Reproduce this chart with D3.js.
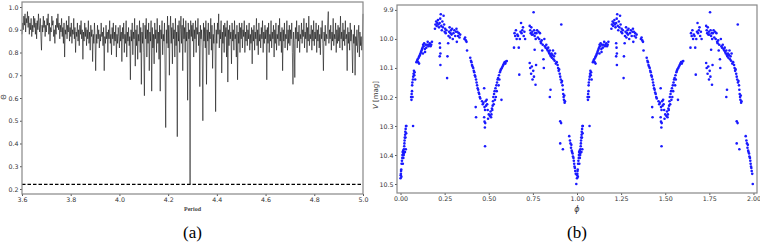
<!DOCTYPE html>
<html>
<head>
<meta charset="utf-8">
<script src="https://cdn.jsdelivr.net/npm/d3@7"></script>
<style>
  html, body { margin: 0; padding: 0; background: #fff; }
  svg { display: block; }
  .tick text { font-family: "DejaVu Sans", sans-serif; font-size: 6.3px; fill: #333; }
  .tick line { stroke: #555; }
</style>
</head>
<body>
<svg id="chart" width="760" height="242"></svg>
<script>
// ---------------- Panel (a): PDM periodogram ----------------
const periodStart = 3.6;
const periodStep = 0.0025;
const theta = [
  0.88,0.93,0.90,0.96,0.92,0.97,0.89,0.95,0.93,0.98,0.91,0.96,0.88,0.93,0.90,0.95,0.87,0.92,0.89,0.96,
  0.91,0.95,0.88,0.93,0.86,0.94,0.90,0.97,0.92,0.89,0.95,0.87,0.81,0.92,0.89,0.96,0.91,0.94,0.87,0.92,
  0.89,0.95,0.92,0.97,0.88,0.93,0.85,0.91,0.89,0.96,0.92,0.94,0.87,0.90,0.84,0.92,0.88,0.95,0.91,0.97,
  0.90,0.93,0.86,0.92,0.89,0.95,0.87,0.91,0.84,0.93,0.78,0.90,0.88,0.94,0.86,0.92,0.89,0.96,0.85,0.91,
  0.87,0.93,0.84,0.90,0.88,0.95,0.86,0.91,0.80,0.89,0.87,0.93,0.85,0.90,0.83,0.92,0.88,0.94,0.86,0.90,
  0.77,0.89,0.85,0.93,0.87,0.91,0.83,0.90,0.86,0.94,0.84,0.89,0.81,0.92,0.87,0.90,0.76,0.88,0.84,0.93,
  0.86,0.72,0.88,0.84,0.92,0.86,0.90,0.82,0.88,0.85,0.93,0.87,0.89,0.83,0.91,0.72,0.87,0.84,0.92,0.86,
  0.89,0.80,0.90,0.86,0.94,0.84,0.88,0.79,0.91,0.86,0.93,0.83,0.89,0.85,0.92,0.78,0.88,0.84,0.91,0.87,
  0.82,0.92,0.85,0.89,0.76,0.91,0.86,0.93,0.80,0.88,0.84,0.94,0.78,0.89,0.85,0.91,0.83,0.87,0.68,0.90,
  0.85,0.93,0.79,0.89,0.86,0.95,0.74,0.90,0.83,0.92,0.77,0.88,0.85,0.94,0.80,0.91,0.66,0.89,0.84,0.93,
  0.80,0.61,0.92,0.86,0.95,0.78,0.90,0.84,0.93,0.72,0.89,0.85,0.94,0.63,0.91,0.82,0.88,0.75,0.93,0.86,
  0.90,0.80,0.95,0.84,0.89,0.77,0.92,0.63,0.90,0.86,0.94,0.79,0.88,0.85,0.93,0.72,0.47,0.90,0.84,0.96,
  0.82,0.92,0.70,0.89,0.96,0.84,0.91,0.75,0.93,0.86,0.90,0.78,0.95,0.83,0.89,0.43,0.92,0.85,0.94,0.80,
  0.90,0.96,0.84,0.92,0.72,0.95,0.86,0.91,0.80,0.94,0.85,0.89,0.59,0.93,0.86,0.90,0.22,0.94,0.87,0.92,
  0.85,0.93,0.78,0.90,0.86,0.94,0.80,0.91,0.88,0.95,0.83,0.89,0.65,0.92,0.86,0.90,0.82,0.50,0.93,0.85,
  0.91,0.82,0.94,0.66,0.90,0.85,0.93,0.79,0.89,0.86,0.95,0.81,0.92,0.73,0.88,0.84,0.93,0.86,0.54,0.90,
  0.84,0.93,0.88,0.97,0.82,0.90,0.86,0.94,0.71,0.89,0.84,0.92,0.80,0.93,0.87,0.91,0.78,0.94,0.67,0.90,
  0.83,0.92,0.86,0.89,0.75,0.93,0.85,0.90,0.81,0.94,0.86,0.88,0.78,0.92,0.68,0.89,0.84,0.93,0.80,0.91,
  0.86,0.93,0.82,0.90,0.87,0.94,0.80,0.89,0.85,0.92,0.83,0.90,0.86,0.93,0.81,0.88,0.84,0.91,0.75,0.90,
  0.85,0.92,0.81,0.89,0.86,0.95,0.83,0.90,0.79,0.93,0.85,0.88,0.82,0.91,0.86,0.94,0.80,0.89,0.84,0.92,
  0.86,0.90,0.68,0.91,0.84,0.93,0.80,0.88,0.85,0.94,0.82,0.89,0.86,0.92,0.78,0.90,0.84,0.93,0.81,0.88,
  0.86,0.92,0.83,0.95,0.85,0.89,0.80,0.91,0.72,0.90,0.85,0.93,0.82,0.88,0.86,0.94,0.81,0.90,0.84,0.92,
  0.83,0.90,0.86,0.93,0.80,0.66,0.89,0.84,0.69,0.91,0.86,0.94,0.82,0.89,0.85,0.92,0.80,0.88,0.86,0.93,
  0.84,0.90,0.87,0.95,0.82,0.89,0.86,0.93,0.80,0.91,0.85,0.96,0.83,0.88,0.86,0.92,0.81,0.90,0.85,0.94,
  0.83,0.89,0.86,0.93,0.80,0.90,0.85,0.92,0.82,0.88,0.79,0.91,0.86,0.94,0.84,0.72,0.89,0.85,0.92,0.83,
  0.88,0.86,0.93,0.98,0.84,0.90,0.86,0.92,0.81,0.89,0.85,0.95,0.83,0.88,0.86,0.93,0.80,0.90,0.84,0.92,
  0.85,0.91,0.82,0.96,0.86,0.89,0.81,0.93,0.85,0.90,0.83,0.94,0.86,0.88,0.72,0.91,0.84,0.89,0.81,0.93,
  0.85,0.90,0.82,0.71,0.88,0.84,0.92,0.70,0.87,0.83,0.90,0.80,0.86,0.92,0.78,0.89,0.83,0.87,0.81,0.85,
  0.97
];
const thetaThreshold = 0.22;
const periodTicks = [3.6, 3.8, 4.0, 4.2, 4.4, 4.6, 4.8, 5.0];
const thetaTicks = [0.2, 0.3, 0.4, 0.5, 0.6, 0.7, 0.8, 0.9, 1.0];

// ---------------- Panel (b): phased light curve (one cycle, shown twice) ----------------
const phase = [
  0.000,0.001,0.002,0.003,0.004,0.005,0.006,0.008,0.010,0.011,0.012,0.013,0.014,0.015,0.016,0.017,0.018,0.019,0.020,0.021,
  0.022,0.023,0.024,0.025,0.026,0.027,0.028,0.029,0.031,0.033,0.030,0.032,0.071,
  0.060,0.062,0.063,0.065,0.066,0.067,0.068,0.070,0.072,0.074,0.076,0.078,0.080,0.083,
  0.090,0.094,0.097,0.100,0.103,0.106,0.110,0.113,0.116,0.119,0.122,0.125,0.128,0.131,0.134,0.138,0.142,0.146,0.150,0.154,
  0.158,0.162,0.166,0.170,0.174,0.178,0.105,0.127,0.139,
  0.195,0.198,0.202,0.205,0.208,0.212,0.215,0.218,0.222,0.225,0.228,0.231,0.234,0.237,0.240,0.244,0.247,0.250,0.253,0.256,
  0.260,0.222,0.224,0.226,0.222,0.226,0.264,0.266,0.270,
  0.272,0.275,0.278,0.280,0.283,0.286,0.289,0.292,0.296,0.300,0.305,0.310,0.314,0.317,0.319,0.322,0.326,0.330,0.334,0.338,
  0.362,0.366,0.370,0.374,0.377,0.395,0.399,0.402,0.405,0.408,0.412,0.415,0.418,0.421,0.424,0.428,0.431,0.434,0.437,0.440,
  0.443,0.446,0.449,0.452,0.426,0.428,
  0.462,0.466,0.470,0.474,0.476,0.479,0.482,0.485,0.488,0.491,0.494,0.474,0.476,0.478,0.479,0.480,0.496,0.500,0.506,
  0.510,0.513,0.515,0.518,0.520,0.522,0.524,0.526,0.528,0.530,0.533,0.535,0.538,0.540,0.543,0.545,0.547,0.550,0.553,0.556,
  0.558,0.560,0.563,0.566,0.569,0.572,0.574,0.578,0.582,0.586,0.590,0.594,0.598,0.602,
  0.643,0.646,0.650,0.654,0.658,0.662,0.666,0.670,0.673,0.676,0.680,0.683,0.686,0.690,0.694,0.698,0.702,0.706,
  0.732,0.735,0.738,0.741,0.744,0.747,0.750,0.754,0.757,0.760,0.763,0.766,0.770,0.774,0.778,0.782,0.786,0.790,
  0.732,0.735,0.740,0.744,0.748,0.752,0.756,0.760,0.765,0.768,
  0.794,0.797,0.800,0.803,0.806,0.810,0.812,0.815,0.818,0.822,0.826,0.830,0.834,0.837,0.840,0.843,0.846,0.849,0.852,0.855,
  0.858,0.861,0.864,0.867,0.870,0.873,0.876,0.846,0.850,0.880,0.885,0.890,0.893,0.896,0.899,0.902,0.905,0.908,0.911,0.912,
  0.915,0.918,0.920,0.922,0.924,0.926,0.928,0.930,0.932,
  0.905,0.910,0.905,0.920,0.956,0.960,0.963,0.966,0.968,0.970,0.972,0.975,0.977,0.980,0.982,0.984,0.986,0.988,0.990,0.993,
  0.996
];
const vmag = [
  10.48,10.47,10.465,10.455,10.45,10.475,10.43,10.42,10.41,10.40,10.39,10.43,10.40,10.385,10.41,10.395,10.40,10.38,10.39,10.37,
  10.36,10.35,10.34,10.39,10.33,10.32,10.34,10.31,10.30,10.30,10.38,10.325,10.30,
  10.20,10.21,10.19,10.18,10.16,10.15,10.20,10.14,10.13,10.12,10.11,10.125,10.115,10.14,
  10.08,10.075,10.07,10.08,10.065,10.06,10.055,10.05,10.045,10.04,10.035,10.03,10.02,10.025,10.015,10.035,10.02,10.03,10.02,10.01,
  10.025,10.02,10.015,10.025,10.02,10.01,10.085,10.05,10.045,
  9.965,9.95,9.94,9.955,9.945,9.935,9.95,9.96,9.945,9.93,9.915,9.955,9.97,9.94,9.96,9.92,9.95,9.975,9.965,9.98,
  9.97,10.015,10.03,10.05,10.06,10.09,10.135,10.06,10.015,
  9.99,9.975,9.96,9.995,9.98,9.97,9.985,9.965,10.0,9.98,9.97,9.99,9.975,9.965,10.01,9.975,9.99,9.98,9.995,9.985,
  10.0,9.995,10.005,10.01,10.04,10.065,10.075,10.08,10.09,10.095,10.10,10.11,10.115,10.125,10.13,10.14,10.15,10.16,10.17,10.175,
  10.185,10.19,10.2,10.205,10.235,10.27,
  10.215,10.225,10.22,10.17,10.235,10.245,10.215,10.23,10.21,10.225,10.245,10.27,10.285,10.305,10.37,10.29,10.275,10.26,10.265,
  10.25,10.27,10.26,10.24,10.245,10.23,10.215,10.2,10.225,10.19,10.18,10.21,10.17,10.2,10.16,10.18,10.15,10.14,10.135,10.16,
  10.125,10.14,10.115,10.11,10.105,10.21,10.1,10.095,10.09,10.085,10.08,10.085,10.078,10.076,
  10.03,9.98,9.99,9.97,10.0,9.985,9.99,10.03,10.123,10.0,9.975,9.945,9.98,9.97,9.96,9.99,9.975,10.0,
  9.955,9.97,9.98,9.96,9.985,9.975,9.985,9.908,9.97,9.99,9.98,10.0,9.98,9.97,9.995,9.975,10.0,9.98,
  10.083,10.1,10.12,10.095,10.14,10.11,10.13,10.037,10.158,10.09,
  10.01,10.015,10.005,10.04,10.02,10.07,10.1,10.0,10.025,10.03,10.02,10.035,10.04,10.03,10.045,10.05,10.04,10.055,10.06,10.05,
  10.065,10.055,10.04,10.07,10.06,10.075,10.05,10.2,10.175,10.085,10.08,10.09,10.1,10.11,10.105,10.12,10.13,10.14,9.95,10.15,
  10.145,10.16,10.175,10.19,10.2,10.21,10.195,10.22,10.215,
  10.284,10.29,10.36,10.38,10.335,10.35,10.36,10.375,10.365,10.385,10.39,10.395,10.405,10.41,10.42,10.43,10.44,10.445,10.455,10.465,
  10.50
];
const cycles = [0, 1];
const phaseTicks = [0, 0.25, 0.5, 0.75, 1.0, 1.25, 1.5, 1.75, 2.0];
const magTicks = [9.9, 10.0, 10.1, 10.2, 10.3, 10.4, 10.5];

const svg = d3.select("#chart");

// ---------- Panel (a) ----------
const A = { x0: 22, x1: 363, y0: 2, y1: 194 };
const xa = d3.scaleLinear().domain([3.6, 5.0]).range([A.x0, A.x1]);
const ya = d3.scaleLinear().domain([0.178, 1.022]).range([A.y1, A.y0]);
const gA = svg.append("g");

const pdm = theta.map((t, i) => ({ p: periodStart + i * periodStep, t }));
gA.append("path")
  .datum(pdm)
  .attr("fill", "none")
  .attr("stroke", "#000")
  .attr("stroke-opacity", 0.68)
  .attr("stroke-width", 0.8)
  .attr("d", d3.line().x(d => xa(d.p)).y(d => ya(d.t)));

gA.append("line")
  .attr("x1", A.x0).attr("x2", A.x1)
  .attr("y1", ya(thetaThreshold)).attr("y2", ya(thetaThreshold))
  .attr("stroke", "#000").attr("stroke-width", 1.2)
  .attr("stroke-dasharray", "3.5,2");

gA.append("g").attr("transform", `translate(0,${A.y1})`)
  .call(d3.axisBottom(xa).tickValues(periodTicks).tickFormat(d3.format(".1f")).tickSize(2).tickPadding(1.5))
  .call(g => g.select(".domain").remove());
gA.append("g").attr("transform", `translate(${A.x0},0)`)
  .call(d3.axisLeft(ya).tickValues(thetaTicks).tickFormat(d3.format(".1f")).tickSize(2).tickPadding(1.5))
  .call(g => g.select(".domain").remove());

gA.append("rect")
  .attr("x", A.x0).attr("y", A.y0).attr("width", A.x1 - A.x0).attr("height", A.y1 - A.y0)
  .attr("fill", "none").attr("stroke", "#888").attr("stroke-width", 1.2);

gA.append("text").text("Θ")
  .attr("transform", `translate(4.5,97) rotate(-90)`)
  .attr("text-anchor", "middle").attr("dominant-baseline", "middle")
  .attr("font-family", "DejaVu Sans, sans-serif").attr("font-size", 7).attr("fill", "#333");
gA.append("text").text("Period")
  .attr("x", (A.x0 + A.x1) / 2).attr("y", 211)
  .attr("text-anchor", "middle")
  .attr("font-family", "Liberation Serif, serif").attr("font-weight", "bold").attr("font-size", 6).attr("fill", "#444");
gA.append("text").text("(a)")
  .attr("x", (A.x0 + A.x1) / 2).attr("y", 238)
  .attr("text-anchor", "middle")
  .attr("font-family", "Liberation Serif, serif").attr("font-size", 17).attr("fill", "#000");

// ---------- Panel (b) ----------
const B = { x0: 397, x1: 757, y0: 5, y1: 193 };
const xb = d3.scaleLinear().domain([-0.02, 2.02]).range([B.x0, B.x1]);
const yb = d3.scaleLinear().domain([9.883, 10.531]).range([B.y0, B.y1]);
const gB = svg.append("g");

const pts = [];
cycles.forEach(c => phase.forEach((p, i) => pts.push({ ph: p + c, m: vmag[i] })));
gB.append("g").selectAll("circle").data(pts).join("circle")
  .attr("cx", d => xb(d.ph)).attr("cy", d => yb(d.m))
  .attr("r", 1.3).attr("fill", "#1a1aff");

gB.append("g").attr("transform", `translate(0,${B.y1})`)
  .call(d3.axisBottom(xb).tickValues(phaseTicks).tickFormat(d3.format(".2f")).tickSize(2).tickPadding(1.5))
  .call(g => g.select(".domain").remove());
gB.append("g").attr("transform", `translate(${B.x0},0)`)
  .call(d3.axisLeft(yb).tickValues(magTicks).tickFormat(d3.format(".1f")).tickSize(2).tickPadding(1.5))
  .call(g => g.select(".domain").remove());

gB.append("rect")
  .attr("x", B.x0).attr("y", B.y0).attr("width", B.x1 - B.x0).attr("height", B.y1 - B.y0)
  .attr("fill", "none").attr("stroke", "#888").attr("stroke-width", 1.2);

const vlab = gB.append("text")
  .attr("transform", `translate(376,95) rotate(-90)`)
  .attr("text-anchor", "middle").attr("dominant-baseline", "middle")
  .attr("font-family", "DejaVu Sans, sans-serif").attr("font-size", 7).attr("fill", "#333");
vlab.append("tspan").attr("font-style", "italic").text("V");
vlab.append("tspan").text(" [mag]");

gB.append("text").text("ϕ")
  .attr("x", xb(1.0)).attr("y", 212)
  .attr("text-anchor", "middle")
  .attr("font-family", "DejaVu Sans, sans-serif").attr("font-style", "italic").attr("font-size", 8).attr("fill", "#333");
gB.append("text").text("(b)")
  .attr("x", xb(1.0)).attr("y", 238)
  .attr("text-anchor", "middle")
  .attr("font-family", "Liberation Serif, serif").attr("font-size", 17).attr("fill", "#000");
</script>
</body>
</html>
